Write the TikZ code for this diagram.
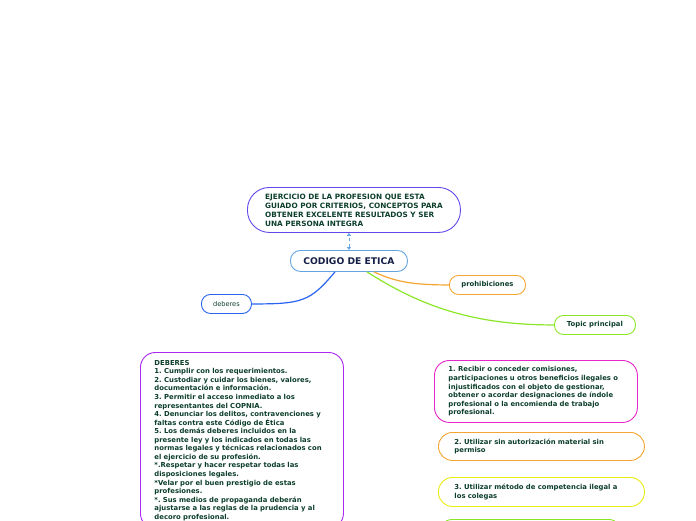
\documentclass[tikz,border=0pt]{standalone}
\usepackage{fontspec}
\setmainfont{DejaVu Sans}
\usetikzlibrary{arrows.meta}
\frenchspacing
\lineskiplimit=-5pt
\definecolor{txt}{RGB}{12,62,42}
\definecolor{navy}{RGB}{20,30,70}
\definecolor{topc}{RGB}{100,70,235}
\definecolor{centc}{RGB}{100,165,225}
\definecolor{bluec}{RGB}{40,100,240}
\definecolor{orangec}{RGB}{245,165,50}
\definecolor{greenc}{RGB}{140,230,40}
\definecolor{purplec}{RGB}{170,40,240}
\definecolor{magentac}{RGB}{230,40,200}
\definecolor{yellowc}{RGB}{235,235,20}
\tikzset{
  bx/.style={draw, line width=0.9pt, anchor=north west, inner sep=0pt, align=left,
    font=\bfseries\fontsize{6.85}{8.55}\selectfont, text=txt},
  small/.style={draw, line width=0.9pt, anchor=north west, inner sep=0pt, rounded corners=9pt,
    minimum height=19pt, font=\bfseries\fontsize{6.85}{8}\selectfont, text=txt},
  conn/.style={line width=1.2pt}
}
\begin{document}
\begin{tikzpicture}[x=1pt,y=-1pt]
\useasboundingbox (0,0) rectangle (696,520);
\clip (0,0) rectangle (696,520);
\node[bx, draw=topc, rounded corners=22pt, minimum height=45pt, minimum width=213pt,
  font=\bfseries\fontsize{7.3}{9}\selectfont] (obj) at (247,187)
 {EJERCICIO DE LA PROFESION QUE ESTA\\GUIADO POR CRITERIOS, CONCEPTOS PARA\\OBTENER EXCELENTE RESULTADOS Y SER\\UNA PERSONA INTEGRA};
\node[draw=centc, line width=0.9pt, rounded corners=10pt, anchor=north west, inner sep=0pt, minimum width=117pt, minimum height=21pt,
  font=\bfseries\fontsize{9.2}{11}\selectfont, text=navy] (codigo) at (290,250) {CODIGO DE ETICA};
\node[small, draw=bluec, minimum width=50pt, font=\fontsize{6.6}{8}\selectfont] (deberes) at (201,294) {deberes};
\node[small, draw=orangec, minimum width=76pt] (prohib) at (449,275) {prohibiciones};
\node[small, draw=greenc, minimum width=81pt] (topic) at (554,315) {Topic principal};
\draw[conn, bluec] ([xshift=-14pt]codigo.south) .. controls +(-25,30) and +(50,0) .. (deberes.east);
\draw[conn, orangec] ([xshift=25pt]codigo.south) .. controls +(20,9) and +(-40,0) .. (prohib.west);
\draw[conn, greenc] ([xshift=18pt]codigo.south) .. controls +(55,35) and +(-80,0) .. (topic.west);
\draw[centc, line width=0.8pt, dashed, {Triangle[width=4pt,length=3pt]}-{Triangle[width=4pt,length=3pt]}] (codigo.north) -- (codigo.north |- obj.south);
\node[bx, draw=purplec, rounded corners=15pt, minimum height=176pt, inner xsep=14pt, text width=175pt] (deb) at (140,352)
 {DEBERES\\1. Cumplir con los requerimientos.\\2. Custodiar y cuidar los bienes, valores,\\documentación e información.\\3. Permitir el acceso inmediato a los\\representantes del COPNIA.\\4. Denunciar los delitos, contravenciones y\\faltas contra este Código de Ética\\5. Los demás deberes incluidos en la\\presente ley y los indicados en todas las\\normas legales y técnicas relacionados con\\el ejercicio de su profesión.\\{}*.Respetar y hacer respetar todas las\\disposiciones legales.\\{}*Velar por el buen prestigio de estas\\profesiones.\\{}*. Sus medios de propaganda deberán\\ajustarse a las reglas de la prudencia y al\\decoro profesional.};
\node[bx, draw=magentac, rounded corners=15pt, minimum height=62pt, inner xsep=14pt, text width=175pt] (p1) at (434,360)
 {1. Recibir o conceder comisiones,\\participaciones u otros beneficios ilegales o\\injustificados con el objeto de gestionar,\\obtener o acordar designaciones de índole\\profesional o la encomienda de trabajo\\profesional.};
\node[bx, draw=orangec, rounded corners=14pt, minimum height=28pt, inner xsep=16pt, text width=174pt] (p2) at (438,432)
 {2. Utilizar sin autorización material sin\\permiso};
\node[bx, draw=yellowc, rounded corners=14pt, minimum height=29pt, inner xsep=16pt, text width=174pt] (p3) at (438,477)
 {3. Utilizar método de competencia ilegal a\\los colegas};
\node[bx, draw=greenc, rounded corners=14pt, minimum height=30pt, minimum width=184pt] (p4) at (438,519) {};
\end{tikzpicture}
\end{document}
